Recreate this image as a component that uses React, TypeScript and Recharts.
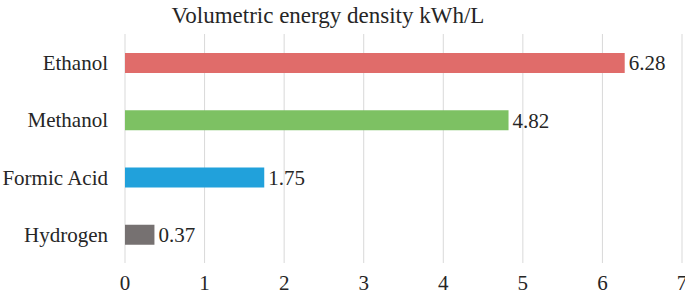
import { BarChart, Bar, XAxis, YAxis, CartesianGrid, Cell, LabelList } from 'recharts';

const fuels = ['Ethanol', 'Methanol', 'Formic Acid', 'Hydrogen'];
const density = [6.28, 4.82, 1.75, 0.37];
const barColors = ['#e06c6a', '#7dc163', '#21a1db', '#767171'];
const xTicks = [0, 1, 2, 3, 4, 5, 6, 7];

const data = fuels.map((name, i) => ({ name, value: density[i] }));

const font = 'Liberation Serif, Times New Roman, Times, serif';
const textColor = '#262626';

export default function App() {
    return (
        <div style={{ position: 'absolute', left: 0, top: 0, width: 685, height: 296, background: '#fff', fontFamily: font }}>
            {/* titre */}
            <div style={{ position: 'absolute', left: 0, top: 3, width: 656, textAlign: 'center', fontSize: 23, color: textColor }}>
                Volumetric energy density kWh/L
            </div>
            <BarChart
                width={685}
                height={296}
                data={data}
                layout="vertical"
                margin={{ top: 34, right: 3, left: 0, bottom: 0 }}
                barCategoryGap={0}
                style={{ fontFamily: font }}
            >
                <CartesianGrid horizontal={false} stroke="#d9d9d9" />
                <XAxis
                    type="number"
                    domain={[0, 7]}
                    ticks={xTicks}
                    axisLine={false}
                    tickLine={false}
                    height={33}
                    interval={0}
                    dy={4}
                    tick={{ fill: textColor, fontSize: 21, fontFamily: font }}
                />
                <YAxis
                    type="category"
                    dataKey="name"
                    width={125}
                    axisLine={false}
                    tickLine={false}
                    tickMargin={11}
                    tick={{ fill: textColor, fontSize: 21, fontFamily: font }}
                />
                <Bar dataKey="value" barSize={20} isAnimationActive={false}>
                    {data.map((entry, index) => (
                        <Cell key={`cell-${index}`} fill={barColors[index]} />
                    ))}
                    <LabelList dataKey="value" position="right" offset={4} fill={textColor} fontSize={21} fontFamily={font} />
                </Bar>
            </BarChart>
        </div>
    );
}
